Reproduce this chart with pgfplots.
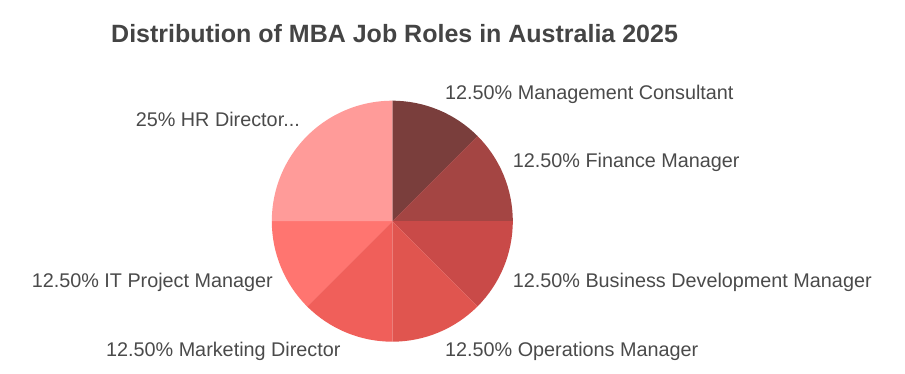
\documentclass[border=0pt]{standalone}
\usepackage{pgfplots}
\pgfplotsset{compat=1.18}
\usepackage{pgfplotstable}
\usepackage{fontspec}
\setmainfont{Liberation Sans}

\definecolor{cMC}{HTML}{7A3E3C}
\definecolor{cFin}{HTML}{A44543}
\definecolor{cBiz}{HTML}{C94A48}
\definecolor{cOps}{HTML}{E0554F}
\definecolor{cMkt}{HTML}{F05F5A}
\definecolor{cIT}{HTML}{FF7570}
\definecolor{cHR}{HTML}{FF9B99}
\definecolor{txt}{HTML}{4A4A4A}
\definecolor{ttl}{HTML}{444444}

\pgfplotstableread[col sep=comma]{
share,pct,col,lx,ly,anc,lab
12.5,12.50,cMC,0.437,1.006,base west,Management Consultant
12.5,12.50,cFin,0.999,0.446,base west,Finance Manager
12.5,12.50,cBiz,0.999,-0.551,base west,Business Development Manager
12.5,12.50,cOps,0.437,-1.124,base west,Operations Manager
12.5,12.50,cMkt,-0.428,-1.124,base east,Marketing Director
12.5,12.50,cIT,-0.990,-0.551,base east,IT Project Manager
25,25,cHR,-0.766,0.784,base east,HR Director...
}\piedata

\newcommand\labfont{\fontsize{19.8}{24}\selectfont}

\begin{document}
\begin{tikzpicture}[x=1pt,y=1pt]
\path (0,0) rectangle (905,373);
\node[anchor=base west, text=ttl, font=\fontsize{25}{30}\selectfont\bfseries, inner sep=0pt] at (111,330) {Distribution of MBA Job Roles in Australia 2025};
\begin{axis}[
  at={(392.3pt,151.8pt)}, anchor=center,
  scale only axis, width=241pt, height=241pt,
  xmin=-1, xmax=1, ymin=-1, ymax=1,
  hide axis, clip=false]
\def\startang{90}
\pgfplotsforeachungrouped \i in {0,...,6}{%
  \pgfplotstablegetelem{\i}{share}\of\piedata \let\s=\pgfplotsretval
  \pgfplotstablegetelem{\i}{pct}\of\piedata \let\p=\pgfplotsretval
  \pgfplotstablegetelem{\i}{col}\of\piedata \let\c=\pgfplotsretval
  \pgfplotstablegetelem{\i}{lx}\of\piedata \let\lx=\pgfplotsretval
  \pgfplotstablegetelem{\i}{ly}\of\piedata \let\ly=\pgfplotsretval
  \pgfplotstablegetelem{\i}{anc}\of\piedata \let\an=\pgfplotsretval
  \pgfplotstablegetelem{\i}{lab}\of\piedata \let\lb=\pgfplotsretval
  \pgfmathsetmacro\endang{\startang-3.6*\s}
  \pgfmathsetmacro\cx{cos(\startang)}
  \pgfmathsetmacro\cy{sin(\startang)}
  \edef\cmd{%
    \noexpand\fill[\c] (axis cs:0,0) -- (axis cs:\cx,\cy) arc[start angle=\startang, end angle=\endang, radius=120.5pt] -- cycle;
    \noexpand\node[anchor=\an, text=txt, font=\noexpand\labfont, inner sep=0pt] at (axis cs:\lx,\ly) {\p\noexpand\% \lb};
  }%
  \cmd
  \global\let\startang=\endang
}
\end{axis}
\end{tikzpicture}
\end{document}
